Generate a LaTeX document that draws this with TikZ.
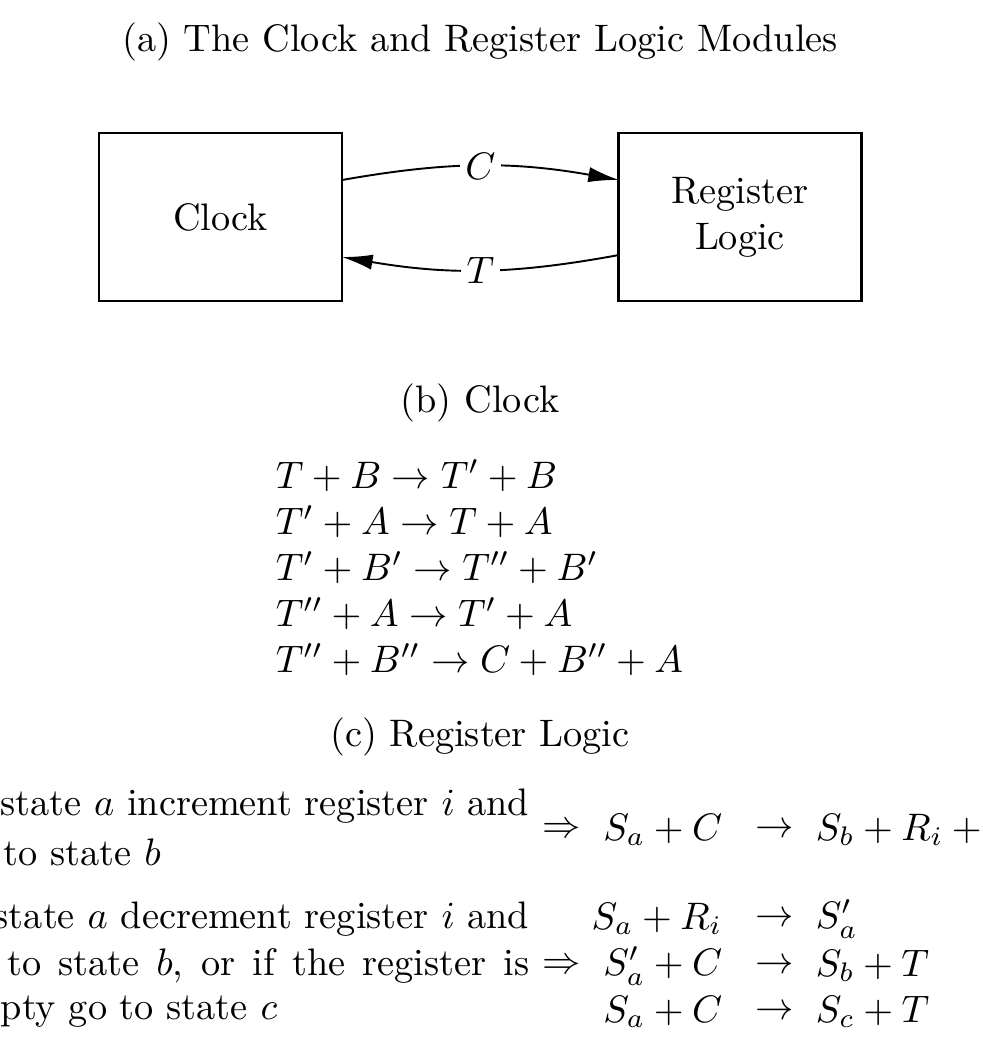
\documentclass[tikz,border=0pt]{standalone}
\usetikzlibrary{arrows.meta}
\newlength{\px}\setlength{\px}{0.261pt}
\begin{document}
\begin{tikzpicture}[x=\px,y=-\px,
  box/.style={draw,line width=0.55pt,minimum width=243\px,minimum height=168\px,align=center,inner sep=0pt},
  lbl/.style={fill=white,inner sep=1.5pt},
  arr/.style={-{Latex[length=8pt,width=4pt]},line width=0.5pt},
  txt/.style={inner sep=0pt}]
\useasboundingbox (0,0) rectangle (982,1059);
\clip (0,0) rectangle (982,1059);
\node[txt] (ta) at (480,42) {(a) The Clock and Register Logic Modules};
\node[box] (clk) at (220.5,217) {Clock};
\node[box] (reg) at (740,217) {Register\\Logic};
\coordinate (c1) at (342,180); \coordinate (c2) at (619,180);
\coordinate (t1) at (619,255); \coordinate (t2) at (342,257);
\draw[arr] (c1) to[bend left=10] node[lbl] {$C$} (c2);
\draw[arr] (t1) to[bend left=10] node[lbl] {$T$} (t2);
\node[txt] (tb) at (480,403) {(b) Clock};
\node[txt,anchor=west,align=left] (eqs) at (275,568) {%
$T+B\rightarrow T'+B$\\
$T'+A\rightarrow T+A$\\
$T'+B'\rightarrow T''+B'$\\
$T''+A\rightarrow T'+A$\\
$T''+B''\rightarrow C+B''+A$};
\node[txt] (tc) at (480,737) {(c) Register Logic};
% left texts
\node[txt,anchor=east] (l1) at (530,806) {state $a$ increment register $i$ and};
\node[txt,anchor=west] (l2) at (3,852) {to state $b$};
\node[txt,anchor=east] (l3) at (530,919) {state $a$ decrement register $i$ and};
\node[txt,anchor=east] (l4) at (530,966) {\hbox to 522\px{to state $b$, or if the register is}};
\node[txt,anchor=west] (l5) at (0,1012) {pty go to state $c$};
\node[txt] (i1) at (562,830) {$\Rightarrow$};
\node[txt] (i2) at (562,966) {$\Rightarrow$};
% equations
\node[txt,anchor=east] (a1) at (723,830) {$S_a+C$};
\node[txt] (r1) at (775,830) {$\rightarrow$};
\node[txt,anchor=west] (b1) at (815,830) {$S_b+R_i+{}$};
\node[txt,anchor=east] (a2) at (723,919) {$S_a+R_i$};
\node[txt] (r2) at (775,919) {$\rightarrow$};
\node[txt,anchor=west] (b2) at (815,919) {$S'_a$};
\node[txt,anchor=east] (a3) at (723,966) {$S'_a+C$};
\node[txt] (r3) at (775,966) {$\rightarrow$};
\node[txt,anchor=west] (b3) at (815,966) {$S_b+T$};
\node[txt,anchor=east] (a4) at (723,1012) {$S_a+C$};
\node[txt] (r4) at (775,1012) {$\rightarrow$};
\node[txt,anchor=west] (b4) at (815,1012) {$S_c+T$};
\end{tikzpicture}
\end{document}
